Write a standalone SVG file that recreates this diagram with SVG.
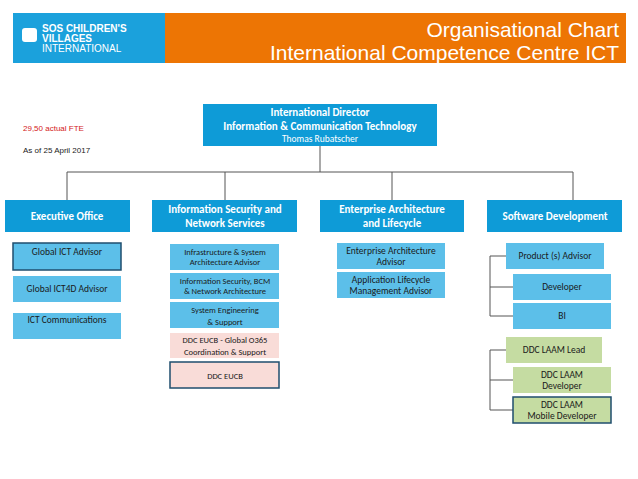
<svg xmlns="http://www.w3.org/2000/svg" width="638" height="479" viewBox="0 0 638 479">
<style>
text{font-family:Carlito,Calibri,"Liberation Sans",sans-serif;text-anchor:middle;}
.h{fill:#0e9bd7;}
.ht{fill:#fff;font-weight:bold;font-size:11px;}
.c{fill:#5cbfe9;}
.p{fill:#f9dcd8;}
.g{fill:#c5dca2;}
.b{stroke:#1f4e6e;stroke-width:1.5;}
.ct{fill:#1a1a1a;font-size:9.5px;font-weight:normal;}
.ln{stroke:#555;stroke-width:1;fill:none;}
</style>
<rect width="638" height="479" fill="#fff"/>
<g id="header">
<rect x="13" y="13" width="152" height="50" fill="#1ba1dc"/>
<rect x="165" y="13" width="461" height="50" fill="#ed7504"/>
<rect x="22" y="28" width="15" height="14" rx="3" fill="#fff"/>
<text x="42" y="32" style="text-anchor:start;font-family:'Liberation Sans',sans-serif;font-weight:bold;font-size:10px;fill:#fff">SOS CHILDREN'S</text>
<text x="42" y="42" style="text-anchor:start;font-family:'Liberation Sans',sans-serif;font-weight:bold;font-size:10px;fill:#fff">VILLAGES</text>
<text x="42" y="52" style="text-anchor:start;font-family:'Liberation Sans',sans-serif;font-size:10px;fill:#fff">INTERNATIONAL</text>
<text x="619" y="37" style="text-anchor:end;font-family:'Liberation Sans',sans-serif;font-size:21px;fill:#fff">Organisational Chart</text>
<text x="619" y="60" style="text-anchor:end;font-family:'Liberation Sans',sans-serif;font-size:21px;fill:#fff">International Competence Centre ICT</text>
</g>
<text x="23" y="131" style="text-anchor:start;font-family:'Liberation Sans',sans-serif;font-size:8px;fill:#d42020">29,50 actual FTE</text>
<text x="23" y="153" style="text-anchor:start;font-family:'Liberation Sans',sans-serif;font-size:8px;fill:#222">As of 25 April 2017</text>
<g id="connectors">
<path class="ln" d="M320 146V172M67 200V172H573V200M225 172V200M392 172V200"/>
<path class="ln" d="M506 256H490V316H513M490 287H513M506 350H490V410H513M490 380H513"/>
</g>
<g id="director"><rect class="h" x="203" y="104" width="234" height="42"/>
<text class="ht" x="320" y="116">International Director</text>
<text class="ht" x="320" y="130">Information &amp; Communication Technology</text>
<text x="320" y="142" style="fill:#fff;font-size:9.5px">Thomas Rubatscher</text></g>
<g id="exec"><rect class="h" x="5" y="200" width="125" height="32"/><text class="ht" x="67" y="220">Executive Office</text></g>
<g id="infosec"><rect class="h" x="152" y="200" width="145" height="32"/><text class="ht" x="225" y="213">Information Security and</text><text class="ht" x="225" y="227">Network Services</text></g>
<g id="ea"><rect class="h" x="320" y="200" width="144" height="32"/><text class="ht" x="392" y="213">Enterprise Architecture</text><text class="ht" x="392" y="227">and Lifecycle</text></g>
<g id="sd"><rect class="h" x="487" y="200" width="135" height="32"/><text class="ht" x="555" y="220">Software Development</text></g>
<g id="gica"><rect class="c b" x="13" y="243" width="108" height="27"/><text class="ct" x="67" y="255">Global ICT Advisor</text></g>
<g id="gict4d"><rect class="c" x="13" y="276" width="108" height="26"/><text class="ct" x="67" y="292">Global ICT4D Advisor</text></g>
<g id="ictcomm"><rect class="c" x="13" y="313" width="108" height="26"/><text class="ct" x="67" y="323">ICT Communications</text></g>
<g id="infra"><rect class="c" x="170" y="244" width="109" height="26"/><text class="ct" x="225" y="255" style="font-size:8.5px">Infrastructure &amp; System</text><text class="ct" x="225" y="265" style="font-size:8.5px">Architecture Advisor</text></g>
<g id="isbcm"><rect class="c" x="170" y="273" width="109" height="26"/><text class="ct" x="225" y="284" style="font-size:8.5px">Information Security, BCM</text><text class="ct" x="225" y="294" style="font-size:8.5px">&amp; Network Architecture</text></g>
<g id="syseng"><rect class="c" x="170" y="302" width="109" height="26"/><text class="ct" x="225" y="313" style="font-size:8.5px">System Engineering</text><text class="ct" x="225" y="325" style="font-size:8.5px">&amp; Support</text></g>
<g id="o365"><rect class="p" x="170" y="333" width="109" height="25"/><text class="ct" x="225" y="343" style="font-size:8.5px">DDC EUCB - Global O365</text><text class="ct" x="225" y="355" style="font-size:8.5px">Coordination &amp; Support</text></g>
<g id="eucb"><rect class="p b" x="170" y="362" width="109" height="26"/><text class="ct" x="225" y="379" style="font-size:8.5px">DDC EUCB</text></g>
<g id="eaadv"><rect class="c" x="337" y="243" width="108" height="26"/><text class="ct" x="391" y="254">Enterprise Architecture</text><text class="ct" x="391" y="265">Advisor</text></g>
<g id="alm"><rect class="c" x="337" y="272" width="108" height="26"/><text class="ct" x="391" y="283">Application Lifecycle</text><text class="ct" x="391" y="294">Management Advisor</text></g>
<g id="prod"><rect class="c" x="506" y="243" width="98" height="26"/><text class="ct" x="555" y="259">Product (s) Advisor</text></g>
<g id="dev"><rect class="c" x="513" y="274" width="98" height="26"/><text class="ct" x="562" y="290">Developer</text></g>
<g id="bi"><rect class="c" x="513" y="303" width="98" height="26"/><text class="ct" x="562" y="319">BI</text></g>
<g id="laamlead"><rect class="g" x="506" y="337" width="96" height="26"/><text class="ct" x="554" y="353">DDC LAAM Lead</text></g>
<g id="laamdev"><rect class="g" x="513" y="367" width="98" height="26"/><text class="ct" x="562" y="378">DDC LAAM</text><text class="ct" x="562" y="389">Developer</text></g>
<g id="laammob"><rect class="g b" x="513" y="397" width="98" height="26"/><text class="ct" x="562" y="408">DDC LAAM</text><text class="ct" x="562" y="419">Mobile Developer</text></g>
</svg>
